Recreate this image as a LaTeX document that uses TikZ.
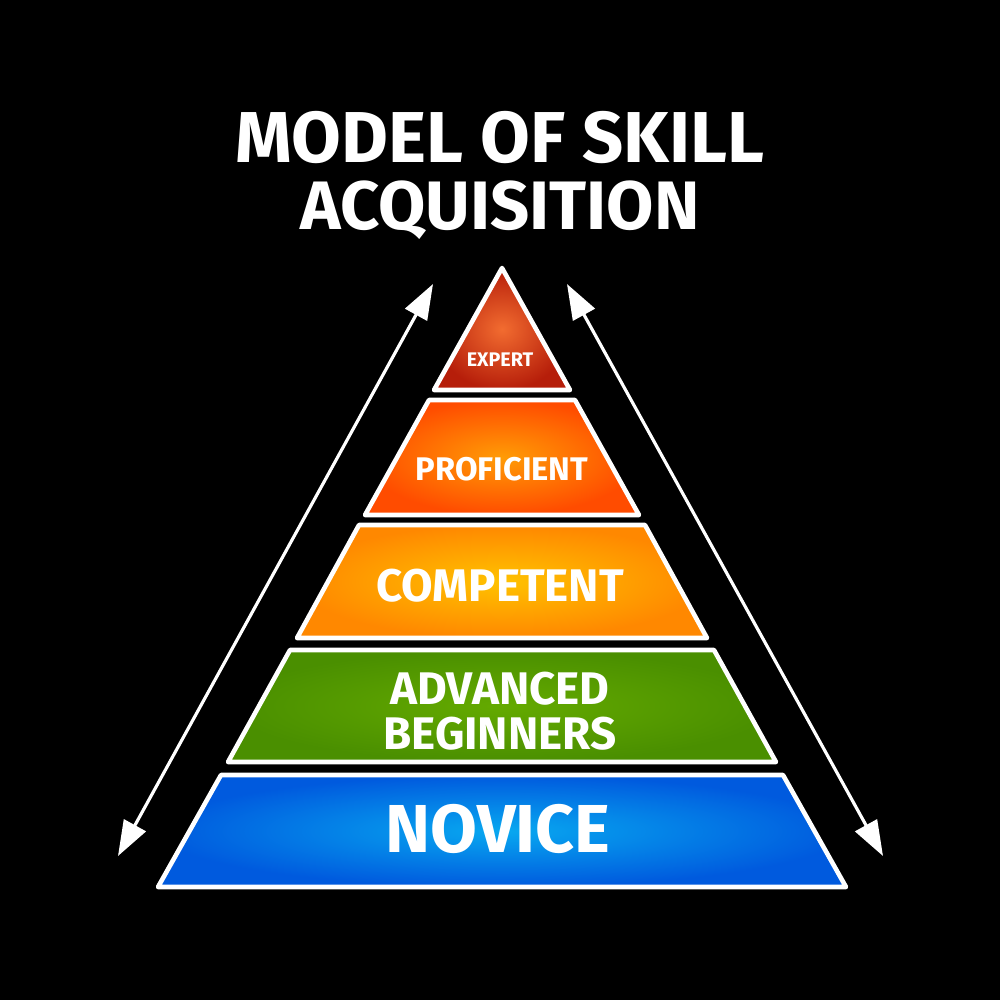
\documentclass[tikz,border=0pt]{standalone}
\usepackage{fontspec}
\setmainfont{Fira Sans}
\usetikzlibrary{arrows.meta}

\definecolor{expIn}{RGB}{242,108,48}
\definecolor{expOut}{RGB}{182,30,10}
\definecolor{proIn}{RGB}{255,156,6}
\definecolor{proOut}{RGB}{255,76,0}
\definecolor{comIn}{RGB}{255,194,0}
\definecolor{comOut}{RGB}{255,136,0}
\definecolor{advIn}{RGB}{100,170,0}
\definecolor{advOut}{RGB}{74,143,0}
\definecolor{novIn}{RGB}{8,168,240}
\definecolor{novOut}{RGB}{0,90,222}

\begin{document}
\begin{tikzpicture}[x=0.01cm,y=-0.01cm]
    \tikzstyle{layer}=[draw=white,line width=1.3pt,line join=round]
    \tikzstyle{lbl}=[text=white,font=\bfseries,inner sep=0pt,anchor=base]
    \tikzstyle{side}=[draw=white,line width=0.9pt,{Triangle[length=10pt,width=7pt]}-{Triangle[length=10pt,width=7pt]}]
  \fill[black] (0,0) rectangle (1000,1000);
  \useasboundingbox (0,0) rectangle (1000,1000);

  % title
  \node[lbl,font=\bfseries\fontsize{20.5}{21}\selectfont] (title1) at (500,162) {MODEL OF SKILL};
  \node[lbl,font=\bfseries\fontsize{19.5}{20}\selectfont] (title2) at (500,229) {ACQUISITION};

  % layers of the pyramid
  \path[layer,inner color=expIn,outer color=expOut] (502,268) -- (570,390) -- (434,390) -- cycle;
  \path[layer,inner color=proIn,outer color=proOut] (429,400) -- (575,400) -- (639,515) -- (365,515) -- cycle;
  \path[layer,inner color=comIn,outer color=comOut] (359,525) -- (645,525) -- (707,638) -- (297,638) -- cycle;
  \path[layer,inner color=advIn,outer color=advOut] (290,650) -- (714,650) -- (776,762) -- (228,762) -- cycle;
  \path[layer,inner color=novIn,outer color=novOut] (221,775) -- (783,775) -- (846,887) -- (158,887) -- cycle;

  \node[lbl,font=\bfseries\fontsize{5.6}{6}\selectfont] (expert) at (500,366) {EXPERT};
  \node[lbl,font=\bfseries\fontsize{9.3}{10}\selectfont] (proficient) at (502,480) {PROFICIENT};
  \node[lbl,font=\bfseries\fontsize{13}{13}\selectfont] (competent) at (500,601) {COMPETENT};
  \node[lbl,font=\bfseries\fontsize{13}{13}\selectfont] (advanced) at (500,704) {ADVANCED};
  \node[lbl,font=\bfseries\fontsize{13}{13}\selectfont] (beginners) at (500,749) {BEGINNERS};
  \node[lbl,font=\bfseries\fontsize{19.3}{19}\selectfont] (novice) at (498,852) {NOVICE};

  % arrows along the sides
  \coordinate (ltop) at (433,284);
  \coordinate (lbot) at (118,856);
  \coordinate (rtop) at (567,284);
  \coordinate (rbot) at (883,856);
  \draw[side] (lbot) -- (ltop);
  \draw[side] (rtop) -- (rbot);
\end{tikzpicture}
\end{document}
